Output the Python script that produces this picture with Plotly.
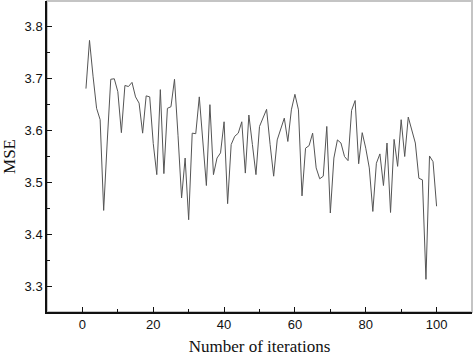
import plotly.graph_objects as go

iterations = list(range(1, 101))
mse = [
    3.681, 3.774, 3.705, 3.643, 3.621, 3.446, 3.578, 3.699, 3.700, 3.675,
    3.596, 3.687, 3.685, 3.693, 3.665, 3.653, 3.595, 3.667, 3.665, 3.575,
    3.515, 3.679, 3.517, 3.643, 3.646, 3.699, 3.590, 3.470, 3.547, 3.428,
    3.595, 3.594, 3.665, 3.582, 3.494, 3.650, 3.515, 3.547, 3.557, 3.617,
    3.459, 3.573, 3.589, 3.595, 3.617, 3.518, 3.630, 3.573, 3.515, 3.608,
    3.624, 3.641, 3.573, 3.512, 3.582, 3.605, 3.624, 3.579, 3.640, 3.670,
    3.640, 3.474, 3.566, 3.571, 3.595, 3.528, 3.507, 3.512, 3.608, 3.441,
    3.547, 3.582, 3.576, 3.550, 3.542, 3.639, 3.658, 3.536, 3.596, 3.566,
    3.528, 3.444, 3.537, 3.555, 3.494, 3.576, 3.442, 3.583, 3.531, 3.621,
    3.550, 3.626, 3.601, 3.576, 3.508, 3.505, 3.313, 3.551, 3.540, 3.454,
]
x_ticks = [0, 20, 40, 60, 80, 100]
y_ticks = [3.3, 3.4, 3.5, 3.6, 3.7, 3.8]

fig = go.Figure()
fig.add_trace(go.Scatter(
    x=iterations, y=mse, mode="lines",
    line=dict(color="#555555", width=1),
    showlegend=False,
))

fig.add_shape(type="rect", xref="paper", yref="paper", x0=0, y0=0, x1=1, y1=1,
              line=dict(color="#c4c4c4", width=2), layer="below")

tickfont = dict(family="Liberation Sans, Arial, sans-serif", size=13, color="#111111")
titlefont = dict(family="Liberation Serif, Times New Roman, serif", size=17, color="#111111")

fig.update_layout(
    width=474, height=356,
    margin=dict(l=47, r=2, t=1, b=44),
    paper_bgcolor="white", plot_bgcolor="white",
    xaxis=dict(
        range=[-10, 110], tickvals=x_ticks, ticktext=[str(v) for v in x_ticks],
        ticks="inside", ticklen=5, tickcolor="#111111", tickwidth=1,
        minor=dict(ticks="inside", ticklen=3, dtick=10, tick0=0, tickcolor="#111111"),
        showline=True, linecolor="#111111", linewidth=1.5,
        showgrid=False, zeroline=False, tickfont=tickfont,
        title=dict(text="Number of iterations", font=titlefont, standoff=12),
        automargin=False,
    ),
    yaxis=dict(
        range=[3.25, 3.85], tickvals=y_ticks, ticktext=[f"{v:.1f}" for v in y_ticks],
        ticks="inside", ticklen=5, tickcolor="#111111", tickwidth=1,
        minor=dict(ticks="inside", ticklen=3, dtick=0.05, tick0=3.25, tickcolor="#111111"),
        showline=True, linecolor="#111111", linewidth=1.5,
        showgrid=False, zeroline=False, tickfont=tickfont,
        title=dict(text="MSE", font=titlefont, standoff=6),
        automargin=False,
    ),
)

fig.write_html(
    "out.html",
    config={"displayModeBar": False},
    post_script="document.body.style.margin='0';document.body.style.padding='0';",
)
